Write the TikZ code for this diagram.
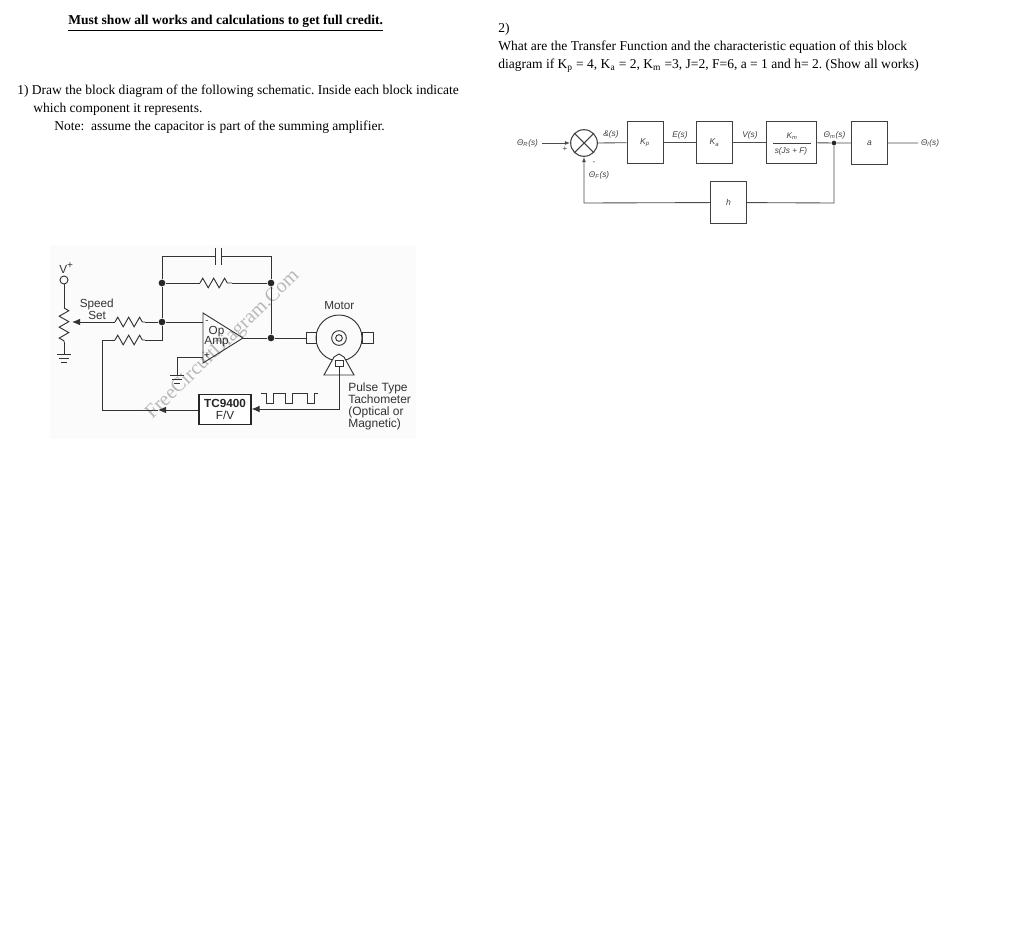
\documentclass[tikz,border=0pt]{standalone}
\usepackage{fontspec}
\setmainfont{Liberation Serif}
\setsansfont{Liberation Sans}
\usetikzlibrary{arrows.meta,decorations.pathmorphing}
\frenchspacing
\tikzset{
  doc/.style={anchor=base west,inner sep=0pt,font=\fontsize{10.15}{12}\selectfont,text=black},
  sch/.style={anchor=base west,inner sep=0pt,font=\sffamily\fontsize{8.8}{9}\selectfont,text=black!80},
  wire/.style={draw=black!80,line width=0.7pt},
  res/.style={wire,decorate,decoration={zigzag,amplitude=3.6pt,segment length=8.2pt}},
  tip/.style={-{Latex[length=6pt,width=5pt]}},
  dot/.style={circle,fill=black!85,inner sep=0pt,minimum size=5pt},
  blk/.style={draw=black!75,line width=0.7pt,minimum width=27pt,minimum height=32pt,inner sep=0pt,font=\sffamily\itshape\fontsize{6.4}{7}\selectfont,text=black!75},
  sig/.style={draw=black!70,line width=0.65pt},
  lab/.style={inner sep=0pt,font=\sffamily\itshape\fontsize{6.2}{7}\selectfont,text=black!75}
}
\begin{document}
\begin{tikzpicture}[x=0.75pt,y=-0.75pt]
\useasboundingbox[fill=white] (0,0) rectangle (1024,941);
% image background of schematic
\fill[black!1.5] (50,245) rectangle (416,439);
% watermark
\node[rotate=44,inner sep=0pt,font=\fontsize{15}{15}\selectfont,text=black!28] (wm) at (223,345) {FreeCircuitDiagram.Com};
% texts
\node[doc,font=\bfseries\fontsize{10.15}{12}\selectfont] (head) at (68,25) {\underline{Must show all works and calculations to get full credit.}};
\node[doc] (q1a) at (17,95) {1) Draw the block diagram of the following schematic. Inside each block indicate};
\node[doc] (q1b) at (33,113) {which component it represents.};
\node[doc] (q1c) at (54,131) {Note:\ \ assume the capacitor is part of the summing amplifier.};
\node[doc] (q2a) at (498,32.5) {2)};
\node[doc] (q2b) at (498,50.5) {What are the Transfer Function and the characteristic equation of this block};
\node[doc] (q2c) at (498,68.5) {diagram if K\textsubscript{p} = 4, K\textsubscript{a} = 2, K\textsubscript{m} =3, J=2, F=6, a = 1 and h= 2. (Show all works)};
% schematic
\node[circle,draw=black!80,line width=0.7pt,inner sep=0pt,minimum size=6pt] (vo) at (64,280) {};
\node[sch,font=\sffamily\fontsize{8.8}{9}\selectfont] (vp) at (59,273) {V\raisebox{3.5pt}{\fontsize{7.5}{8}\selectfont +}};
\coordinate (p1) at (64,308); \coordinate (p2) at (64,342); \coordinate (g1) at (64,354);
\draw[wire] (vo) -- (p1);
\draw[res] (p1) -- (p2);
\draw[wire] (p2) -- (g1);
\draw[wire] (57,354) -- (71,354) (59,358) -- (69,358) (61,362) -- (67,362);
\node[dot] (n1) at (162,322) {};
\node[dot] (n2) at (162,283) {};
\node[dot] (n3) at (271,283) {};
\node[dot] (n4) at (271,338) {};
\coordinate (r1a) at (115,322); \coordinate (r1b) at (145,322);
\coordinate (r2a) at (115,340); \coordinate (r2b) at (145,340);
\coordinate (r3a) at (200,283); \coordinate (r3b) at (232,283);
\draw[wire,tip] (r1a) -- (72,322);
\draw[res] (r1a) -- (r1b);
\draw[wire] (r1b) -- (n1);
\draw[res] (r2a) -- (r2b);
\draw[wire] (r2b) -- (162,340) -- (n1);
\draw[res] (r3a) -- (r3b);
\draw[wire] (n2) -- (r3a) (r3b) -- (n3);
\draw[wire] (n1) -- (n2) -- (162,256) -- (215,256);
\draw[wire] (215,248) -- (215,265) (221,248) -- (221,265);
\draw[wire] (221,256) -- (271,256) -- (n3) -- (n4);
\node[draw=black!85,line width=0.9pt,minimum width=39pt,minimum height=23pt,inner sep=0pt,fill=white,align=center,font=\sffamily\fontsize{8.8}{9.5}\selectfont,text=black!85] (tc) at (225,409.5) {\textbf{TC9400}\\F/V};
\draw[wire,tip] (tc.west |- 0,410) -- (158,410);
\draw[wire] (158,410) -- (102,410) -- (102,340) -- (r2a);
% op amp
\draw[wire] (203,313) -- (243,338) -- (203,363) -- cycle;
\node[sch,anchor=center,align=center,font=\sffamily\fontsize{8.8}{8}\selectfont] (op) at (216.5,336.5) {Op\\Amp};
\draw[wire] (n1) -- (203,322);
\draw[wire] (203,357) -- (177,357) -- (177,375);
\draw[wire] (170,375) -- (184,375) (172,379) -- (182,379) (174,383) -- (180,383);
\node[font=\sffamily\fontsize{7}{7}\selectfont,inner sep=0pt,text=black!85] (mi) at (207,322) {-};
\node[font=\sffamily\fontsize{7.5}{8}\selectfont,inner sep=0pt,text=black!85] (pl) at (207,356) {+};
\draw[wire] (243,338) -- (n4) -- (306,338);
% motor
\node[circle,draw=black!80,line width=0.7pt,minimum size=34.5pt,inner sep=0pt] (motor) at (339,338) {};
\node[circle,draw=black!80,line width=0.7pt,minimum size=11pt,inner sep=0pt] (mi1) at (339,338) {};
\node[circle,draw=black!80,line width=0.7pt,minimum size=5pt,inner sep=0pt] (mi2) at (339,338) {};
\draw[wire] (306,332) rectangle (316,343);
\draw[wire] (362,332) rectangle (373,343);
\draw[wire,fill=white] (324,375) -- (334,357) -- (339,354) -- (344,357) -- (354,375) -- cycle;
\draw[wire,fill=white] (335,360) rectangle (343,366);
\draw[wire,tip] (339,366) -- (339,409) -- (tc.east |- 0,409);
\draw[wire] (261,393) -- (266,393) -- (266,403) -- (273,403) -- (273,393) -- (285,393) -- (285,403) -- (292,403) -- (292,393) -- (307,393) -- (307,403) -- (314,403) -- (314,393) -- (318,393);
\node[sch] (mot) at (324,309) {Motor};
\node[sch] (sp) at (79.5,307) {Speed};
\node[sch] (st) at (88,319) {Set};
\node[sch,align=left,anchor=north west,font=\sffamily\fontsize{9}{9}\selectfont] (pt) at (348,382.5) {Pulse Type\\Tachometer\\(Optical or\\Magnetic)};
% block diagram
\node[circle,draw=black!75,line width=0.8pt,minimum size=20pt,inner sep=0pt] (sum) at (584,143) {};
\draw[black!75,line width=0.8pt] (sum.north west) -- (sum.south east) (sum.north east) -- (sum.south west);
\node[blk] (kp) at (645,142.5) {K\textsubscript{p}};
\node[blk] (ka) at (714.5,142.5) {K\textsubscript{a}};
\node[blk,minimum width=37pt] (km) at (791.5,142.5) {};
\node[blk] (ba) at (869.5,143) {a};
\node[blk] (bh) at (728.5,202.5) {h};
\draw[black!75,line width=0.6pt] (773,143) -- (811,143);
\node[lab] (kmt) at (792,136) {K\textsubscript{m}};
\node[lab] (kmb) at (791,151) {s(Js + F)};
\node[dot,minimum size=3.5pt] (br) at (834,143) {};
\coordinate (in) at (542,143); \coordinate (out) at (918,143);
\draw[sig,-{Latex[length=4pt,width=3pt]}] (in) -- (sum.west);
\draw[sig] (sum.east) -- (kp) (kp) -- (ka) (ka) -- (km) (km) -- (br) -- (ba) (ba) -- (out);
\draw[sig] (br) -- (834,203) -- (bh);
\draw[sig,-{Latex[length=4pt,width=3pt]}] (bh) -- (584,203) -- (sum.south);
\node[lab] (t1) at (527.5,143) {Θ\textsubscript{R}(s)};
\node[lab] (t2) at (611,134.5) {\&(s)};
\node[lab] (t3) at (680,135) {E(s)};
\node[lab] (t4) at (750,135) {V(s)};
\node[lab] (t5) at (834.5,135) {Θ\textsubscript{m}(s)};
\node[lab] (t6) at (930,143) {Θ\textsubscript{l}(s)};
\node[lab] (t7) at (599,175) {Θ\textsubscript{F}(s)};
\node[inner sep=0pt,font=\sffamily\fontsize{6}{6}\selectfont,text=black!75] (pl2) at (565,149) {+};
\node[inner sep=0pt,font=\sffamily\fontsize{6}{6}\selectfont,text=black!75] (mi2b) at (594,163) {-};
\end{tikzpicture}
\end{document}
